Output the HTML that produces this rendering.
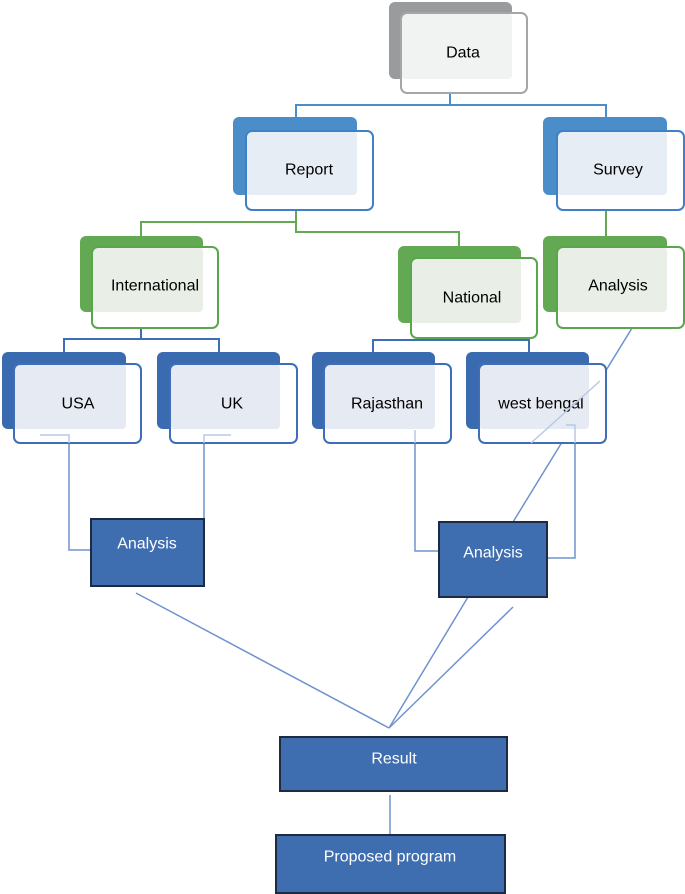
<!DOCTYPE html>
<html><head><meta charset="utf-8"><style>
html,body{margin:0;padding:0;background:#fff;}
svg{display:block;}
text{font-family:"Liberation Sans",sans-serif;font-size:16px;text-anchor:middle;dominant-baseline:central;}
</style></head><body>
<svg width="685" height="894" viewBox="0 0 685 894" xmlns="http://www.w3.org/2000/svg">
<!-- connectors -->
<g fill="none" stroke-width="2">
<polyline points="450,93 450,105 296,105 296,117" stroke="#4a8dc8"/>
<polyline points="450,105 606,105 606,117" stroke="#4a8dc8"/>
<polyline points="296,210 296,222 141,222 141,236" stroke="#63a953"/>
<polyline points="296,222 296,232 459,232 459,246" stroke="#63a953"/>
<polyline points="606,210 606,236" stroke="#63a953"/>
<polyline points="141,328 141,339 64,339 64,352" stroke="#3e6eb6"/>
<polyline points="141,339 219,339 219,352" stroke="#3e6eb6"/>
<polyline points="460,338 460,340 373,340 373,352" stroke="#3e6eb6"/>
<polyline points="460,340 529,340 529,352" stroke="#3e6eb6"/>
</g>
<g fill="none" stroke="#6f93cf" stroke-width="1.5">
<line x1="640" y1="315" x2="513" y2="522"/>
<polyline points="40,435 69,435 69,550 90,550"/>
<polyline points="231,435 204,435 204,519"/>
<polyline points="415,432 415,551 438,551"/>
<polyline points="566,425 575,425 575,558 548,558"/>
<line x1="136" y1="593" x2="389" y2="728"/>
<line x1="468" y1="597" x2="389" y2="728"/>
<line x1="513" y1="607" x2="389" y2="728"/>
<line x1="390" y1="795" x2="390" y2="834"/>
</g>
<!-- nodes: back, tint, front border -->
<g id="nodes">
<!-- Data -->
<rect x="389" y="2" width="123" height="77" rx="6" fill="#9a9b9d"/>
<rect x="401" y="13" width="126" height="80" rx="6" fill="#fff"/>
<rect x="401" y="13" width="111" height="66" rx="4" fill="#f1f2f2"/>
<rect x="401" y="13" width="126" height="80" rx="6" fill="none" stroke="#a6a6a6" stroke-width="2"/>
<text x="463" y="53">Data</text>
<!-- Report -->
<rect x="233" y="117" width="124" height="78" rx="6" fill="#4a8dc8"/>
<rect x="246" y="131" width="127" height="79" rx="6" fill="#fff"/>
<rect x="246" y="131" width="111" height="64" rx="4" fill="#e7edf4"/>
<rect x="246" y="131" width="127" height="79" rx="6" fill="none" stroke="#3f80c6" stroke-width="2"/>
<text x="309" y="170">Report</text>
<!-- Survey -->
<rect x="543" y="117" width="124" height="78" rx="6" fill="#4a8dc8"/>
<rect x="557" y="131" width="127" height="79" rx="6" fill="#fff"/>
<rect x="557" y="131" width="110" height="64" rx="4" fill="#e7edf4"/>
<rect x="557" y="131" width="127" height="79" rx="6" fill="none" stroke="#3f80c6" stroke-width="2"/>
<text x="618" y="170">Survey</text>
<!-- International -->
<rect x="80" y="236" width="123" height="76" rx="6" fill="#63a953"/>
<rect x="92" y="247" width="126" height="81" rx="6" fill="#fff"/>
<rect x="92" y="247" width="111" height="65" rx="4" fill="#e9efe6"/>
<rect x="92" y="247" width="126" height="81" rx="6" fill="none" stroke="#5aa64c" stroke-width="2"/>
<text x="155" y="286">International</text>
<!-- National -->
<rect x="398" y="246" width="123" height="77" rx="6" fill="#63a953"/>
<rect x="411" y="258" width="126" height="80" rx="6" fill="#fff"/>
<rect x="411" y="258" width="110" height="65" rx="4" fill="#e9efe6"/>
<rect x="411" y="258" width="126" height="80" rx="6" fill="none" stroke="#5aa64c" stroke-width="2"/>
<text x="472" y="298">National</text>
<!-- Analysis green -->
<rect x="543" y="236" width="124" height="76" rx="6" fill="#63a953"/>
<rect x="557" y="247" width="127" height="81" rx="6" fill="#fff"/>
<rect x="557" y="247" width="110" height="65" rx="4" fill="#e9efe6"/>
<rect x="557" y="247" width="127" height="81" rx="6" fill="none" stroke="#5aa64c" stroke-width="2"/>
<text x="618" y="286">Analysis</text>
<!-- USA -->
<rect x="2" y="352" width="124" height="77" rx="6" fill="#3a6bb0"/>
<rect x="14" y="364" width="127" height="79" rx="6" fill="#fff"/>
<rect x="14" y="364" width="112" height="65" rx="4" fill="#e6eaf2"/>
<rect x="14" y="364" width="127" height="79" rx="6" fill="none" stroke="#3e6eb6" stroke-width="2"/>
<text x="78" y="404">USA</text>
<!-- UK -->
<rect x="157" y="352" width="123" height="77" rx="6" fill="#3a6bb0"/>
<rect x="170" y="364" width="127" height="79" rx="6" fill="#fff"/>
<rect x="170" y="364" width="110" height="65" rx="4" fill="#e6eaf2"/>
<rect x="170" y="364" width="127" height="79" rx="6" fill="none" stroke="#3e6eb6" stroke-width="2"/>
<text x="232" y="404">UK</text>
<!-- Rajasthan -->
<rect x="312" y="352" width="123" height="77" rx="6" fill="#3a6bb0"/>
<rect x="324" y="364" width="127" height="79" rx="6" fill="#fff"/>
<rect x="324" y="364" width="111" height="65" rx="4" fill="#e6eaf2"/>
<rect x="324" y="364" width="127" height="79" rx="6" fill="none" stroke="#3e6eb6" stroke-width="2"/>
<text x="387" y="404">Rajasthan</text>
<!-- west bengal -->
<rect x="466" y="352" width="123" height="77" rx="6" fill="#3a6bb0"/>
<rect x="479" y="364" width="127" height="79" rx="6" fill="#fff"/>
<rect x="479" y="364" width="110" height="65" rx="4" fill="#e6eaf2"/>
<rect x="479" y="364" width="127" height="79" rx="6" fill="none" stroke="#3e6eb6" stroke-width="2"/>
<text x="541" y="404">west bengal</text>
</g>
<!-- faint connector stubs visible over the boxes -->
<g fill="none" stroke="#b9c9e6" stroke-width="1.5">
<polyline points="40,435 69,435 69,443"/>
<polyline points="231,435 204,435 204,443"/>
<line x1="415" y1="430" x2="415" y2="443"/>
<polyline points="566,425 575,425 575,443"/>
<line x1="531" y1="443" x2="600" y2="381"/>
</g>
<!-- bottom boxes -->
<g stroke="#1e2a40" stroke-width="2" fill="#3e6db0">
<rect x="91" y="519" width="113" height="67"/>
<rect x="439" y="522" width="108" height="75"/>
<rect x="280" y="737" width="227" height="54"/>
<rect x="276" y="835" width="229" height="58"/>
</g>
<g fill="#ffffff">
<text x="147" y="544">Analysis</text>
<text x="493" y="553">Analysis</text>
<text x="394" y="759">Result</text>
<text x="390" y="857">Proposed program</text>
</g>
</svg>
</body></html>
